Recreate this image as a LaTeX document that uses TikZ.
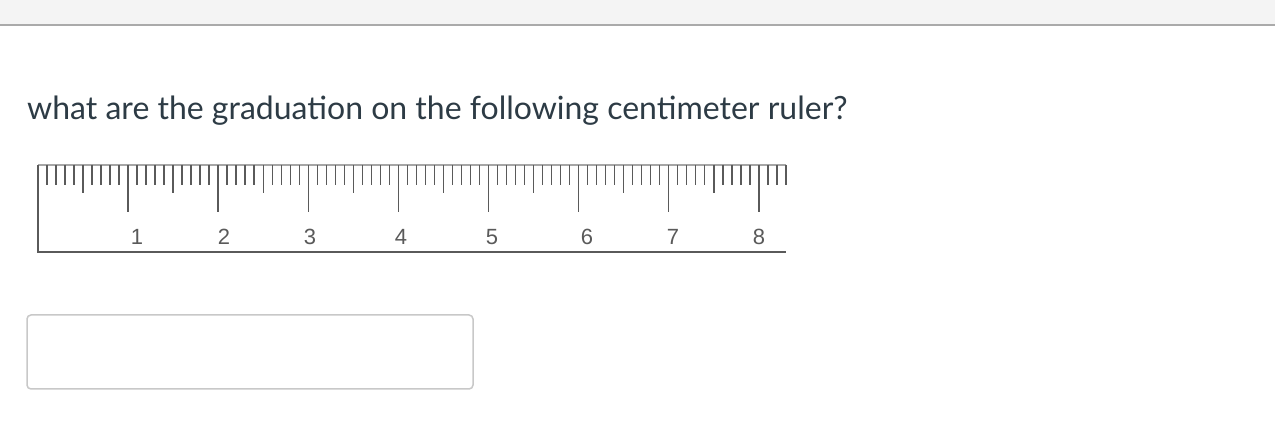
\documentclass[tikz,border=0pt]{standalone}
\usepackage{fontspec}
\setmainfont{Lato}
\newfontfamily\rulerfont{Liberation Sans}
\definecolor{topbar}{HTML}{F4F4F4}
\definecolor{topline}{HTML}{AAAAAA}
\definecolor{boxline}{HTML}{C8C8C8}
\definecolor{tickcol}{HTML}{5A5A5A}
\definecolor{textcol}{HTML}{2D3B45}
\tikzset{
  tick/.style={draw=tickcol, line width=1.5pt},
  numlab/.style={font=\rulerfont\fontsize{22}{22}\selectfont, text=tickcol, inner sep=0pt},
}
\begin{document}
\begin{tikzpicture}[x=1pt,y=-1pt]
\useasboundingbox (0,0) rectangle (1275,427);
\fill[white] (0,0) rectangle (1275,427);
\fill[topbar] (0,0) rectangle (1275,24);
\fill[topline] (0,24) rectangle (1275,26);
\node[anchor=base west, inner sep=0pt, text=textcol, font=\fontsize{32}{36}\selectfont] (q) at (27,120) {what are the graduation on the following centimeter ruler?};
% ruler
\draw[draw=gray!70, line width=1.8pt] (38,165) -- (786,165);
\draw[draw=tickcol, line width=2pt] (38,165) -- (38,252) -- (786,252);
\foreach \i in {1,...,83}{
  \pgfmathsetmacro{\xx}{38+9.01*\i}
  \pgfmathtruncatemacro{\m}{mod(\i,10)}
  \ifnum\m=0
    \draw[tick] (\xx,165) -- (\xx,212);
  \else\ifnum\m=5
    \draw[tick] (\xx,165) -- (\xx,193);
  \else
    \draw[tick] (\xx,165) -- (\xx,185);
  \fi\fi
}
\node[numlab] (n1) at (137,237) {1};
\node[numlab] (n2) at (224,237) {2};
\node[numlab] (n3) at (310,237) {3};
\node[numlab] (n4) at (401,237) {4};
\node[numlab] (n5) at (492,237) {5};
\node[numlab] (n6) at (587,237) {6};
\node[numlab] (n7) at (673,237) {7};
\node[numlab] (n8) at (759,237) {8};
% answer box
\draw[draw=boxline, line width=1.5pt, rounded corners=4pt, fill=white] (27,315) rectangle (473,389);
\end{tikzpicture}
\end{document}
